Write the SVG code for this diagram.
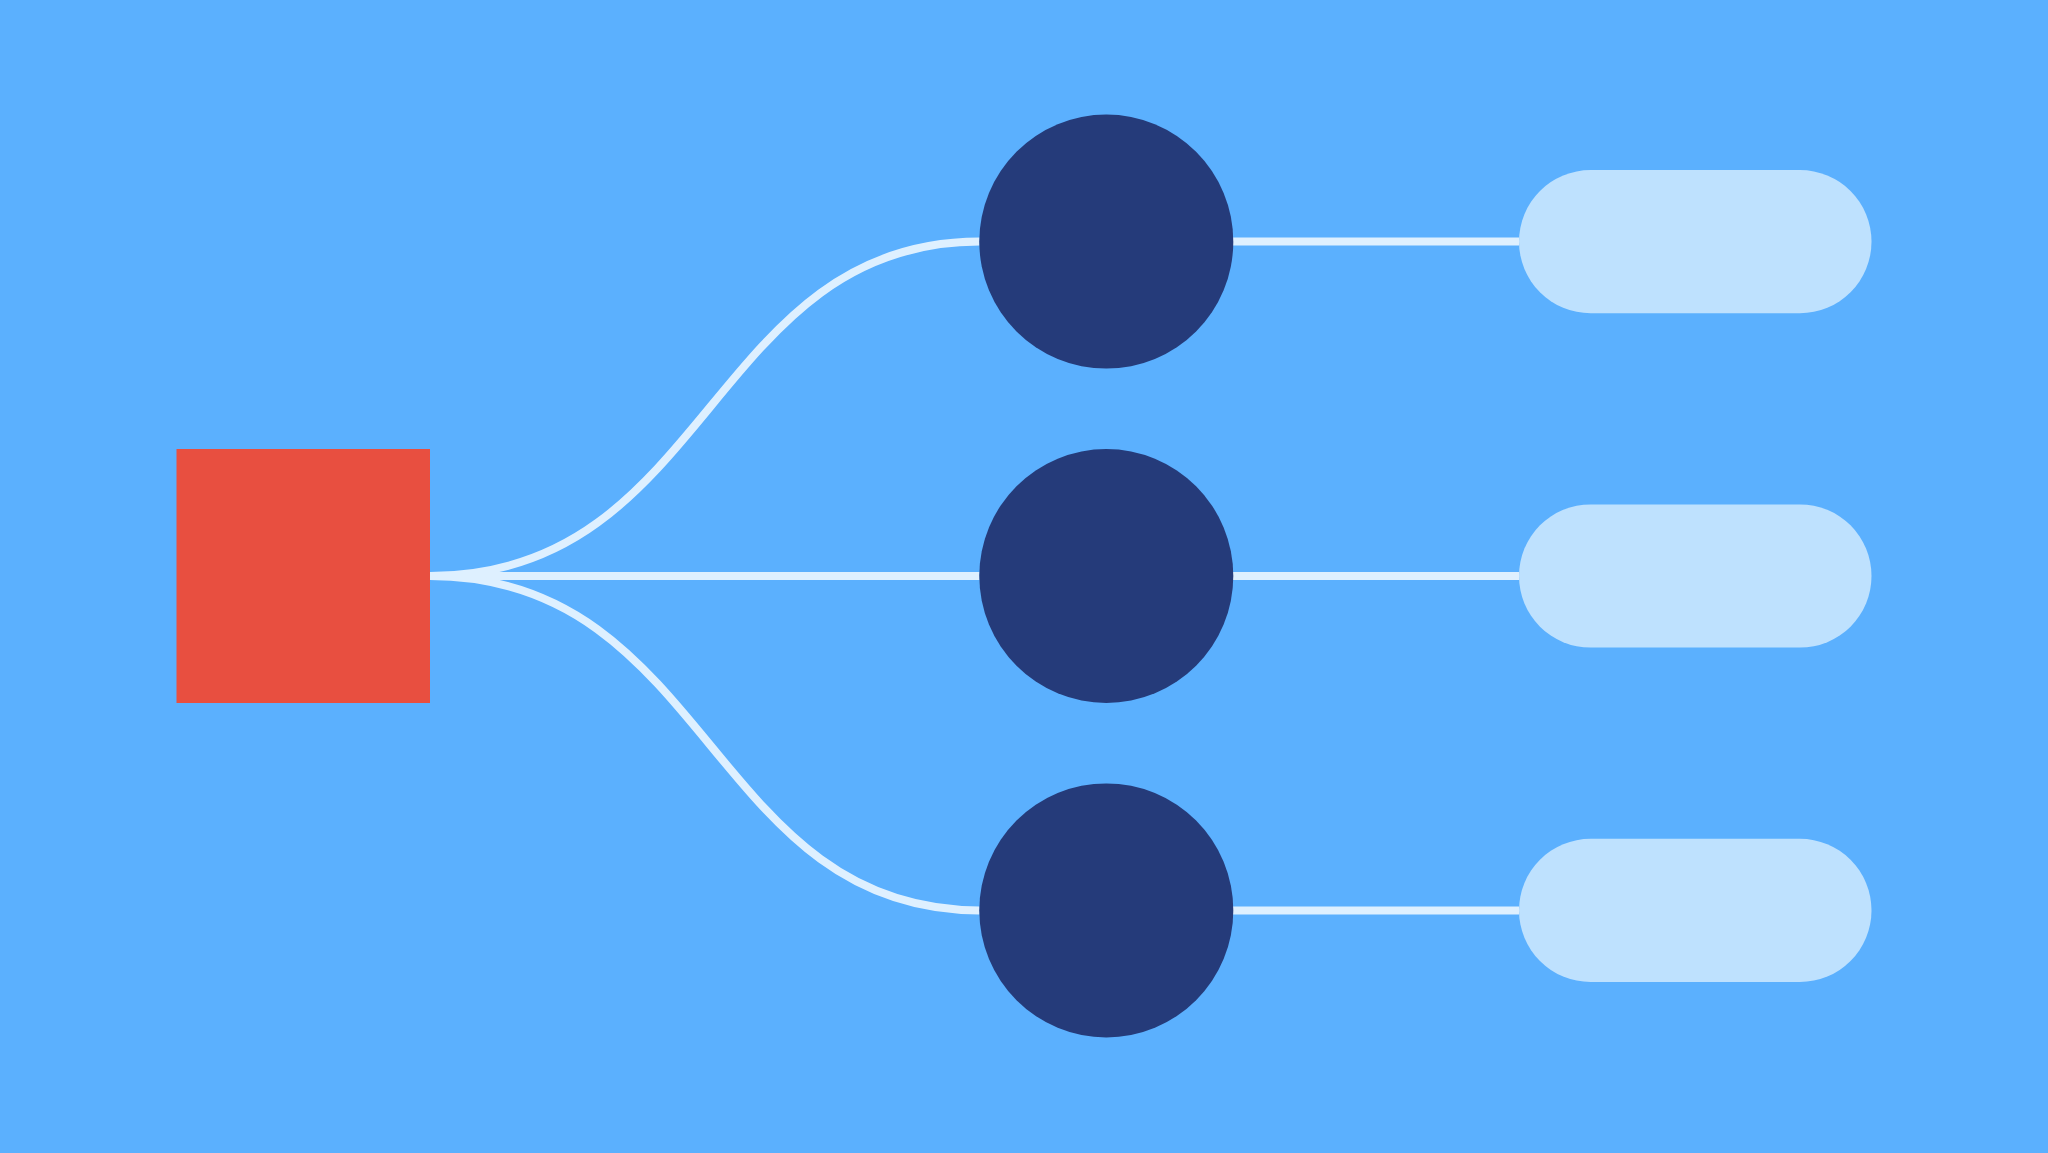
<svg xmlns="http://www.w3.org/2000/svg" width="2048" height="1153" viewBox="0 0 2048 1153">
  <style>
    .bg { fill: #5bb0fe; }
    .src { fill: #e84f40; }
    .hub { fill: #253b7a; }
    .leaf { fill: #bee1fe; }
    .link { fill: none; stroke: #def0ff; stroke-width: 8; }
  </style>
  <rect class="bg" x="0" y="0" width="2048" height="1153"/>
  <g id="connectors">
    <path class="link" d="M430,576 C710,576 710,241.6 979.5,241.6"/>
    <path class="link" d="M430,576 L979.5,576"/>
    <path class="link" d="M430,576 C710,576 710,910.4 979.5,910.4"/>
    <path class="link" d="M1233,241.6 L1519,241.6"/>
    <path class="link" d="M1233,576 L1519,576"/>
    <path class="link" d="M1233,910.4 L1519,910.4"/>
  </g>
  <g id="source">
    <rect class="src" x="176.5" y="449" width="253.5" height="254"/>
  </g>
  <g id="hub-1"><circle class="hub" cx="1106.3" cy="241.6" r="127"/></g>
  <g id="hub-2"><circle class="hub" cx="1106.3" cy="576" r="127"/></g>
  <g id="hub-3"><circle class="hub" cx="1106.3" cy="910.4" r="127"/></g>
  <g id="leaf-1"><rect class="leaf" x="1519" y="170" width="352.5" height="143.2" rx="71.6" ry="71.6"/></g>
  <g id="leaf-2"><rect class="leaf" x="1519" y="504.4" width="352.5" height="143.2" rx="71.6" ry="71.6"/></g>
  <g id="leaf-3"><rect class="leaf" x="1519" y="838.8" width="352.5" height="143.2" rx="71.6" ry="71.6"/></g>
</svg>
